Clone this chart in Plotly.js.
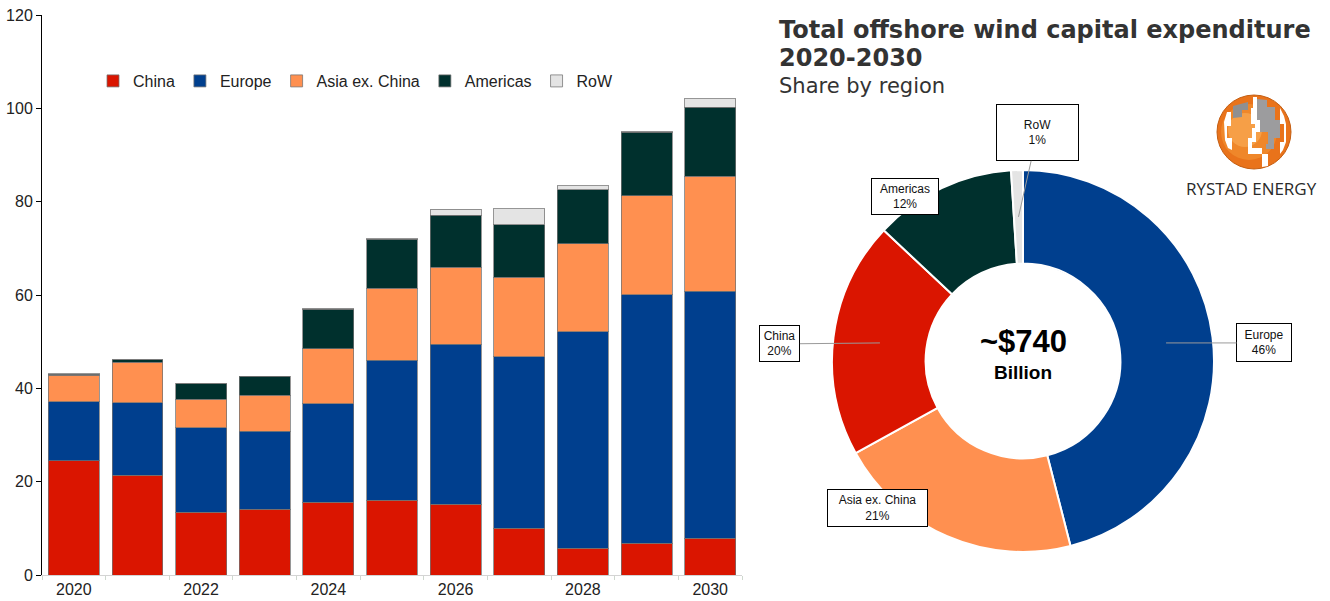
<!DOCTYPE html>
<html>
<head>
<meta charset="utf-8">
<script src="https://cdn.plot.ly/plotly-3.0.1.min.js"></script>
<style>
  html, body { margin: 0; padding: 0; background: #fff; }
  #chart { width: 1330px; height: 601px; }
</style>
</head>
<body>
<div id="chart"></div>
<script>
// Offshore wind capex by region, USD billion per year
const years = [2020, 2021, 2022, 2023, 2024, 2025, 2026, 2027, 2028, 2029, 2030];
const china    = [24.5, 21.4, 13.5, 14.1, 15.6, 16.0, 15.2, 10.0, 5.7, 6.8, 7.9];
const europe   = [12.6, 15.5, 18.1, 16.7, 21.1, 30.0, 34.2, 36.8, 46.4, 53.3, 52.9];
const asiaExCn = [5.7, 8.7, 6.1, 7.7, 11.8, 15.5, 16.5, 17.0, 18.9, 21.2, 24.7];
const americas = [0.2, 0.5, 3.3, 4.1, 8.4, 10.4, 11.2, 11.3, 11.6, 13.6, 14.7];
const row      = [0.1, 0.0, 0.0, 0.0, 0.3, 0.2, 1.3, 3.4, 0.8, 0.2, 1.9];

const yearTicks = [2020, 2022, 2024, 2026, 2028, 2030];
const yTicks = [0, 20, 40, 60, 80, 100, 120];

// 2020-2030 share by region (%)
const shareRegions = ['Europe', 'Asia ex. China', 'China', 'Americas', 'RoW'];
const shareValues  = [46, 21, 20, 12, 1];
const totalLabel = '~$740';
const totalUnit = 'Billion';

const regionColors = {
  'China': '#DA1500',
  'Europe': '#003F8E',
  'Asia ex. China': '#FF9050',
  'Americas': '#00302D',
  'RoW': '#E4E4E4'
};

const W = 1330, H = 601;
const px = x => x / W;
const py = y => 1 - y / H;

const font = 'Arial, "Liberation Sans", sans-serif';
const barLine = { color: 'rgba(115,115,115,0.75)', width: 1 };

const series = [
  ['China', china], ['Europe', europe], ['Asia ex. China', asiaExCn],
  ['Americas', americas], ['RoW', row]
];

const traces = series.map(([name, vals]) => ({
  type: 'bar',
  name: name,
  x: years,
  y: vals,
  marker: { color: regionColors[name], line: barLine },
  hoverinfo: 'x+y+name'
}));

// Donut geometry (pixels)
const cx = 1023, cy = 361, R = 191, holeFrac = 0.51;

traces.push({
  type: 'pie',
  labels: shareRegions,
  values: shareValues,
  hole: holeFrac,
  sort: false,
  direction: 'clockwise',
  rotation: 0,
  textinfo: 'none',
  showlegend: false,
  marker: { colors: shareRegions.map(r => regionColors[r]), line: { color: '#ffffff', width: 2 } },
  domain: { x: [px(cx - R), px(cx + R)], y: [py(cy + R), py(cy - R)] }
});

// Slice label boxes: offset (pixels) from the ring mid-point of each slice
const labelBoxes = {
  'Europe':         { dx: 98,  dy: 0,    w: 52, h: 35, arrow: true },
  'Asia ex. China': { abs: [877, 508],   w: 97, h: 34, arrow: false },
  'China':          { dx: -100, dy: 1,   w: 37, h: 33, arrow: true },
  'Americas':       { abs: [905, 197],   w: 64, h: 33, arrow: false },
  'RoW':            { dx: 19,  dy: -84,  w: 79, h: 53, arrow: true }
};

const annotations = [];
const total = shareValues.reduce((a, b) => a + b, 0);
let cum = 0;
const ringMid = R * (1 + holeFrac) / 2;
shareRegions.forEach((name, i) => {
  const mid = (cum + shareValues[i] / 2) / total * 2 * Math.PI;
  cum += shareValues[i];
  const tx = cx + ringMid * Math.sin(mid);
  const ty = cy - ringMid * Math.cos(mid);
  const b = labelBoxes[name];
  const common = {
    text: name + '<br>' + shareValues[i] + '%',
    font: { family: font, size: 12, color: '#111' },
    bgcolor: '#ffffff', bordercolor: '#000000', borderwidth: 1,
    width: b.w, height: b.h, align: 'center', valign: 'middle',
    xref: 'paper', yref: 'paper'
  };
  if (b.arrow) {
    annotations.push(Object.assign(common, {
      x: px(tx), y: py(ty), ax: b.dx, ay: b.dy,
      showarrow: true, arrowhead: 0, arrowwidth: 1, arrowcolor: '#9a9a9a',
      standoff: 0, startstandoff: 0
    }));
  } else {
    annotations.push(Object.assign(common, {
      x: px(b.abs[0]), y: py(b.abs[1]), showarrow: false,
      xanchor: 'center', yanchor: 'middle'
    }));
  }
});

// Donut centre total
annotations.push({
  text: '<b>' + totalLabel + '</b>', x: px(cx), y: py(341), xref: 'paper', yref: 'paper',
  showarrow: false, xanchor: 'center', yanchor: 'middle',
  font: { family: font, size: 31, color: '#000' }
});
annotations.push({
  text: '<b>' + totalUnit + '</b>', x: px(cx), y: py(372), xref: 'paper', yref: 'paper',
  showarrow: false, xanchor: 'center', yanchor: 'middle',
  font: { family: font, size: 19, color: '#000' }
});

// Right-hand heading
const headFont = '"DejaVu Sans", Verdana, sans-serif';
annotations.push({
  text: '<b>Total offshore wind capital expenditure</b>', x: px(777), y: py(30),
  xref: 'paper', yref: 'paper', showarrow: false, xanchor: 'left', yanchor: 'middle',
  font: { family: headFont, size: 24, color: '#333333' }
});
annotations.push({
  text: '<b>2020-2030</b>', x: px(777), y: py(58),
  xref: 'paper', yref: 'paper', showarrow: false, xanchor: 'left', yanchor: 'middle',
  font: { family: headFont, size: 24, color: '#333333' }
});
annotations.push({
  text: 'Share by region', x: px(777), y: py(86),
  xref: 'paper', yref: 'paper', showarrow: false, xanchor: 'left', yanchor: 'middle',
  font: { family: headFont, size: 21, color: '#333333' }
});

// Company wordmark
annotations.push({
  text: 'RYSTAD ENERGY', x: px(1251), y: py(189),
  xref: 'paper', yref: 'paper', showarrow: false, xanchor: 'center', yanchor: 'middle',
  font: { family: '"Open Sans", "Noto Sans", sans-serif', size: 17, color: '#2a2a2a' }
});

// Globe emblem drawn from simple shapes
const gx = 1254, gy = 132, gr = 37;
function pathFrom(pts) {
  return 'M ' + pts.map(p => px(gx + p[0]).toFixed(5) + ',' + py(gy + p[1]).toFixed(5)).join(' L ') + ' Z';
}
function disc(r, dx, dy, fill, extra) {
  return Object.assign({ type: 'circle', xref: 'paper', yref: 'paper',
    x0: px(gx + dx - r), x1: px(gx + dx + r), y0: py(gy + dy + r), y1: py(gy + dy - r),
    fillcolor: fill, line: { width: 0 } }, extra || {});
}
const shapes = [
  disc(gr, 0, 0, '#E9731B', { line: { color: '#C45E12', width: 1 } }),
  disc(28, -5, 0, '#F08A2C', { opacity: 0.9 }),
  disc(17, -9, -2, '#F7A34C', { opacity: 0.85 }),
  // grey band across the right half
  { type: 'path', xref: 'paper', yref: 'paper', fillcolor: '#9C9C9E', line: { width: 0 },
    path: pathFrom([[3, -33], [13, -32], [13, -25], [21, -25], [21, -12], [26, -12], [26, 6],
                    [20, 6], [20, 17], [12, 17], [12, 12], [14, 12], [14, 0], [6, 0],
                    [6, -12], [3, -12]]) },
  { type: 'path', xref: 'paper', yref: 'paper', fillcolor: '#8F8F91', line: { width: 0 },
    path: pathFrom([[-21, -26], [-6, -30], [-6, -22], [-12, -22], [-12, -15], [-21, -14]]) },
  // white meridian breaks
  { type: 'path', xref: 'paper', yref: 'paper', fillcolor: '#ffffff', line: { width: 0 },
    path: pathFrom([[-1, -35], [3, -35], [3, -12], [6, -12], [6, 0], [2, 0], [2, 10],
                    [-2, 10], [-2, 16], [8, 16], [8, 22], [-6, 22], [-6, 6], [-2, 6],
                    [-2, -4], [1, -4], [1, -8], [-3, -8], [-3, -24], [-1, -24]]) },
  { type: 'path', xref: 'paper', yref: 'paper', fillcolor: '#ffffff', line: { width: 0 },
    path: pathFrom([[-27, -20], [-23, -20], [-23, -6], [-27, -6], [-27, 6], [-22, 6], [-22, 18],
                    [-26, 16], [-29, 8], [-30, -10]]) },
  { type: 'path', xref: 'paper', yref: 'paper', fillcolor: '#ffffff', line: { width: 0 },
    path: pathFrom([[26, -24], [30, -16], [32, -8], [32, 10], [29, 18], [26, 22], [26, 10],
                    [30, 10], [30, -8], [26, -8]]) },
  { type: 'path', xref: 'paper', yref: 'paper', fillcolor: '#ffffff', line: { width: 0 },
    path: pathFrom([[8, 22], [14, 22], [14, 34], [8, 35]]) }
];

const layout = {
  width: W, height: H,
  margin: { l: 0, r: 0, t: 0, b: 0 },
  paper_bgcolor: '#ffffff', plot_bgcolor: '#ffffff',
  barmode: 'stack', bargap: 0.2,
  font: { family: font, color: '#222' },
  xaxis: {
    domain: [px(42), px(742)],
    range: [2019.5, 2030.5],
    tickvals: yearTicks, ticktext: yearTicks.map(String),
    ticks: '', showgrid: false, zeroline: false,
    showline: true, linecolor: '#d4d4d4', linewidth: 1,
    tickfont: { family: font, size: 16, color: '#222' },
    minor: { tick0: 2019.5, dtick: 1, ticks: 'outside', ticklen: 4, tickcolor: '#cfd8cf', showgrid: false },
    fixedrange: true
  },
  yaxis: {
    domain: [py(575), py(15)],
    range: [0, 120],
    tickvals: yTicks,
    ticks: 'outside', ticklen: 5, tickcolor: '#000', tickwidth: 1,
    showline: true, linecolor: '#000', linewidth: 1,
    showgrid: false, zeroline: false,
    tickfont: { family: font, size: 16, color: '#222' },
    fixedrange: true
  },
  showlegend: true,
  legend: {
    orientation: 'h', traceorder: 'normal',
    x: px(93), y: py(81), xanchor: 'left', yanchor: 'middle',
    font: { family: font, size: 16, color: '#222' },
    bgcolor: 'rgba(0,0,0,0)', itemclick: false, itemdoubleclick: false
  },
  annotations: annotations,
  shapes: shapes
};

Plotly.newPlot('chart', traces, layout, { displayModeBar: false, staticPlot: true });
</script>
</body>
</html>
